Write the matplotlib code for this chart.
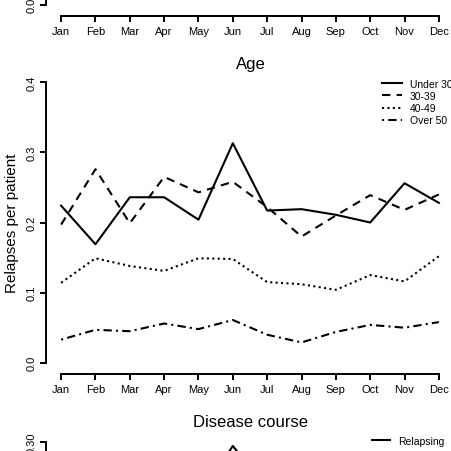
import matplotlib
matplotlib.use("Agg")
import matplotlib.pyplot as plt

plt.rcParams["font.family"] = ["Liberation Sans", "DejaVu Sans"]

months = ["Jan", "Feb", "Mar", "Apr", "May", "Jun",
          "Jul", "Aug", "Sep", "Oct", "Nov", "Dec"]

# Age panel: relapses per patient by month
under_30 = [0.224, 0.169, 0.236, 0.236, 0.204, 0.313,
            0.217, 0.219, 0.211, 0.200, 0.256, 0.228]
age_30_39 = [0.197, 0.276, 0.199, 0.265, 0.243, 0.258,
             0.222, 0.180, 0.210, 0.239, 0.218, 0.240]
age_40_49 = [0.114, 0.149, 0.138, 0.131, 0.149, 0.148,
             0.115, 0.112, 0.104, 0.125, 0.116, 0.152]
over_50 = [0.033, 0.047, 0.045, 0.056, 0.048, 0.061,
           0.040, 0.029, 0.044, 0.054, 0.050, 0.058]

# Disease course panel (only the top of it is visible)
relapsing = [0.21, 0.22, 0.22, 0.23, 0.24, 0.296,
             0.25, 0.22, 0.21, 0.22, 0.23, 0.22]

W = H = 452


def px_axes(fig, left, top, right, bottom):
    """Axes from pixel edges (top-left origin)."""
    return fig.add_axes([left / W, (H - bottom) / H,
                         (right - left) / W, (bottom - top) / H])


def r_style(ax, ylo, yhi, yticks, fmt, xlabels=True):
    pad_x = 0.04 * 11
    pad_y = 0.04 * (yhi - ylo)
    ax.set_xlim(1 - pad_x, 12 + pad_x)
    ax.set_ylim(ylo - pad_y, yhi + pad_y)
    if xlabels:
        ax.set_xticks(list(range(1, 13)))
        ax.set_xticklabels(months, fontsize=8)
    else:
        ax.set_xticks([])
    ax.set_yticks(yticks)
    ax.set_yticklabels([fmt % t for t in yticks], fontsize=8,
                       rotation=90, va="center")
    for s in ["top", "right"]:
        ax.spines[s].set_visible(False)
    ax.spines["left"].set_bounds(ylo, yhi)
    ax.spines["bottom"].set_bounds(1, 12)
    for s in ["left", "bottom"]:
        ax.spines[s].set_linewidth(1.4)
    ax.tick_params(direction="out", length=4, width=1.4, pad=3)
    ax.patch.set_alpha(0)


fig = plt.figure(figsize=(4.52, 4.52), dpi=100)
x = range(1, 13)

# partial panel above (only its x axis shows)
ax0 = px_axes(fig, 46, 17 - 303, 454, 17)
r_style(ax0, 0.0, 0.4, [0.0], "%.1f")

# Age panel
ax = px_axes(fig, 46, 72, 454, 375)
r_style(ax, 0.0, 0.4, [0.0, 0.1, 0.2, 0.3, 0.4], "%.1f")
ax.plot(x, under_30, color="black", lw=1.5, linestyle="-", label="Under 30")
ax.plot(x, age_30_39, color="black", lw=1.5, linestyle=(0, (4, 3)), label="30-39")
ax.plot(x, age_40_49, color="black", lw=1.5, linestyle=(0, (1, 1.6)), label="40-49")
ax.plot(x, over_50, color="black", lw=1.5, linestyle=(0, (1, 2, 4, 2)), label="Over 50")
ax.set_ylabel("Relapses per patient", fontsize=11, labelpad=5)
ax.legend(loc="upper left", bbox_to_anchor=(382 / W, (H - 80) / H),
          bbox_transform=fig.transFigure, frameon=False, fontsize=7.5,
          handlelength=1.9, handletextpad=0.8, labelspacing=0.2,
          borderpad=0, borderaxespad=0)
fig.text(251 / W, (H - 65) / H, "Age", fontsize=12, ha="center", va="center")

# Disease course panel (cut off at the bottom)
ax2 = px_axes(fig, 46, 432, 454, 735)
r_style(ax2, 0.0, 0.30, [0.30], "%.2f", xlabels=False)
ax2.plot(x, relapsing, color="black", lw=1.5, label="Relapsing")
ax2.legend(loc="upper left", bbox_to_anchor=(372 / W, (H - 437) / H),
           bbox_transform=fig.transFigure, frameon=False, fontsize=7.5,
           handlelength=1.75, handletextpad=0.75, borderpad=0, borderaxespad=0)
fig.text(251 / W, (H - 423) / H, "Disease course", fontsize=12,
         ha="center", va="center")

fig.savefig("out.png", dpi=100)
